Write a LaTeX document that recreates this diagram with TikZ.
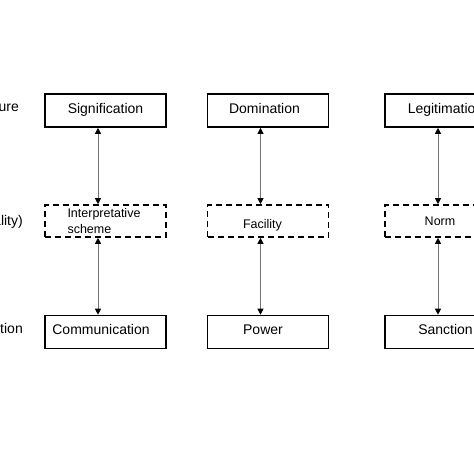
\documentclass[tikz,border=0pt]{standalone}
\usepackage{fontspec}
\setmainfont{Liberation Sans}
\usetikzlibrary{arrows.meta}
\begin{document}
\begin{tikzpicture}[x=1pt,y=-1pt,
  box/.style={draw=black,line width=1.6pt,minimum width=121pt,minimum height=33pt,inner sep=0pt,font=\fontsize{14}{16}\selectfont,text height=10pt,text depth=5pt},
  dbox/.style={draw=black,line width=1.6pt,dash pattern=on 6pt off 4pt,minimum width=121pt,minimum height=32pt,inner sep=0pt,font=\fontsize{12.5}{15.5}\selectfont,text height=9pt,text depth=3pt},
  lab/.style={anchor=east,inner sep=0pt,font=\fontsize{14}{16}\selectfont,text height=10pt,text depth=3pt},
  link/.style={draw=gray!90!black,line width=1pt,{Triangle[length=6pt,width=6pt,fill=black,color=black]}-{Triangle[length=6pt,width=6pt,fill=black,color=black]}}]
\useasboundingbox (0,0) rectangle (474,474);
\clip (0,0) rectangle (474,474);
\fill[white] (0,0) rectangle (474,474);
% row labels
\node[lab] (lS) at (19,108) {Structure};
\node[lab] (lM) at (23,222) {(Modality)};
\node[lab] (lI) at (23,330) {Interaction};
% top row
\node[box] (s1) at (105.5,110.5) {Signification};
\node[box] (s2) at (268,110.5) {\hspace*{-7pt}Domination};
\node[box] (s3) at (445.5,110.5) {Legitimation};
% middle row
\node[dbox,align=left,text height=,text depth=] (m1) at (105.5,221) {\hspace*{-3pt}Interpretative\\\hspace*{-3pt}scheme};
\node[dbox] (m2) at (268,221) {\hspace*{-11pt}\raisebox{-4pt}{Facility}};
\node[dbox] (m3) at (445.5,221) {\hspace*{-11pt}\raisebox{-1pt}{Norm}};
% bottom row
\node[box] (b1) at (105.5,332) {\hspace*{-9pt}Communication};
\node[box] (b2) at (268,332) {\hspace*{-10pt}Power};
\node[box] (b3) at (445.5,332) {Sanction};
% links
\foreach \c in {1,2,3}{
  \draw[link] ([xshift=-7.5pt]s\c.south) -- ([xshift=-7.5pt]m\c.north);
  \draw[link] ([xshift=-7.5pt]m\c.south) -- ([xshift=-7.5pt]b\c.north);
}
\end{tikzpicture}
\end{document}
